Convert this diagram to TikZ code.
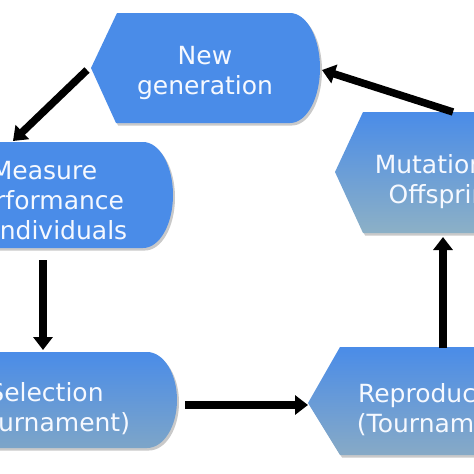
\documentclass[tikz,border=0pt]{standalone}
\usepackage{fontspec}
\setmainfont{DejaVu Sans}
\usetikzlibrary{arrows.meta,shadows}
\definecolor{boxblue}{RGB}{74,140,232}
\definecolor{selbot}{RGB}{125,165,200}
\definecolor{repbot}{RGB}{135,170,198}
\definecolor{mutbot}{RGB}{140,176,198}
\definecolor{txt}{RGB}{246,249,255}
\begin{document}
\begin{tikzpicture}[x=1pt,y=-1pt,
  lbl/.style={text=txt, align=center, inner sep=0pt, font=\fontsize{25}{30}\selectfont},
  flow/.style={line width=7.5pt, draw=black, -{Triangle[width=19pt,length=13pt]}},
  shd/.style={drop shadow={shadow xshift=2pt,shadow yshift=-2.5pt,opacity=0.3,fill=black!70}},
  solidbox/.style={fill=boxblue, shd},
  gradbox/.style={top color=boxblue, bottom color=#1, shd},
]
\useasboundingbox (0,0) rectangle (474,474);
\clip (0,0) rectangle (474,474);

% shapes
\path[solidbox] (91,68) -- (117,13) -- (290,13) .. controls (306.6,13) and (320,37.6) .. (320,68)
   .. controls (320,98.4) and (306.6,123) .. (290,123) -- (116,123) -- cycle;
\path[solidbox] (-100,142) -- (143,142) .. controls (159.6,142) and (173,165.7) .. (173,195)
   .. controls (173,224.3) and (159.6,248) .. (143,248) -- (-100,248) -- cycle;
\path[gradbox=selbot] (-100,352) -- (147,352) .. controls (163.6,352) and (177,373.5) .. (177,400)
   .. controls (177,426.5) and (163.6,448) .. (147,448) -- (-100,448) -- cycle;
\path[gradbox=repbot] (308,403) -- (340,347) -- (520,347) -- (520,455) -- (340,455) -- cycle;
\path[gradbox=mutbot] (335,172) -- (363,112) -- (520,112) -- (520,233) -- (363,233) -- cycle;

% labels
\node[lbl] (newgen) at (205,73) {New\\generation};
\node[lbl] (measure) at (44,201) {Measure\\performance\\of individuals};
\node[lbl] (selection) at (46,409) {Selection\\(Tournament)};
\node[lbl] (repro) at (441,410) {Reproduction\\(Tournament)};
\node[lbl] (mutation) at (446,182) {Mutation of\\Offspring};

% connector ends
\coordinate (mutOut) at (453,112);
\coordinate (ngIn) at (322,70);
\coordinate (ngOut) at (87,70);
\coordinate (meIn) at (13,141);
\coordinate (meOut) at (43,260);
\coordinate (seIn) at (43,350);
\coordinate (seOut) at (185,405);
\coordinate (reIn) at (308,405);
\coordinate (reOut) at (443,348);
\coordinate (muIn) at (443,237);

\draw[flow] (mutOut) -- (ngIn);
\draw[flow] (ngOut) -- (meIn);
\draw[flow] (meOut) -- (seIn);
\draw[flow] (seOut) -- (reIn);
\draw[flow] (reOut) -- (muIn);
\end{tikzpicture}
\end{document}
